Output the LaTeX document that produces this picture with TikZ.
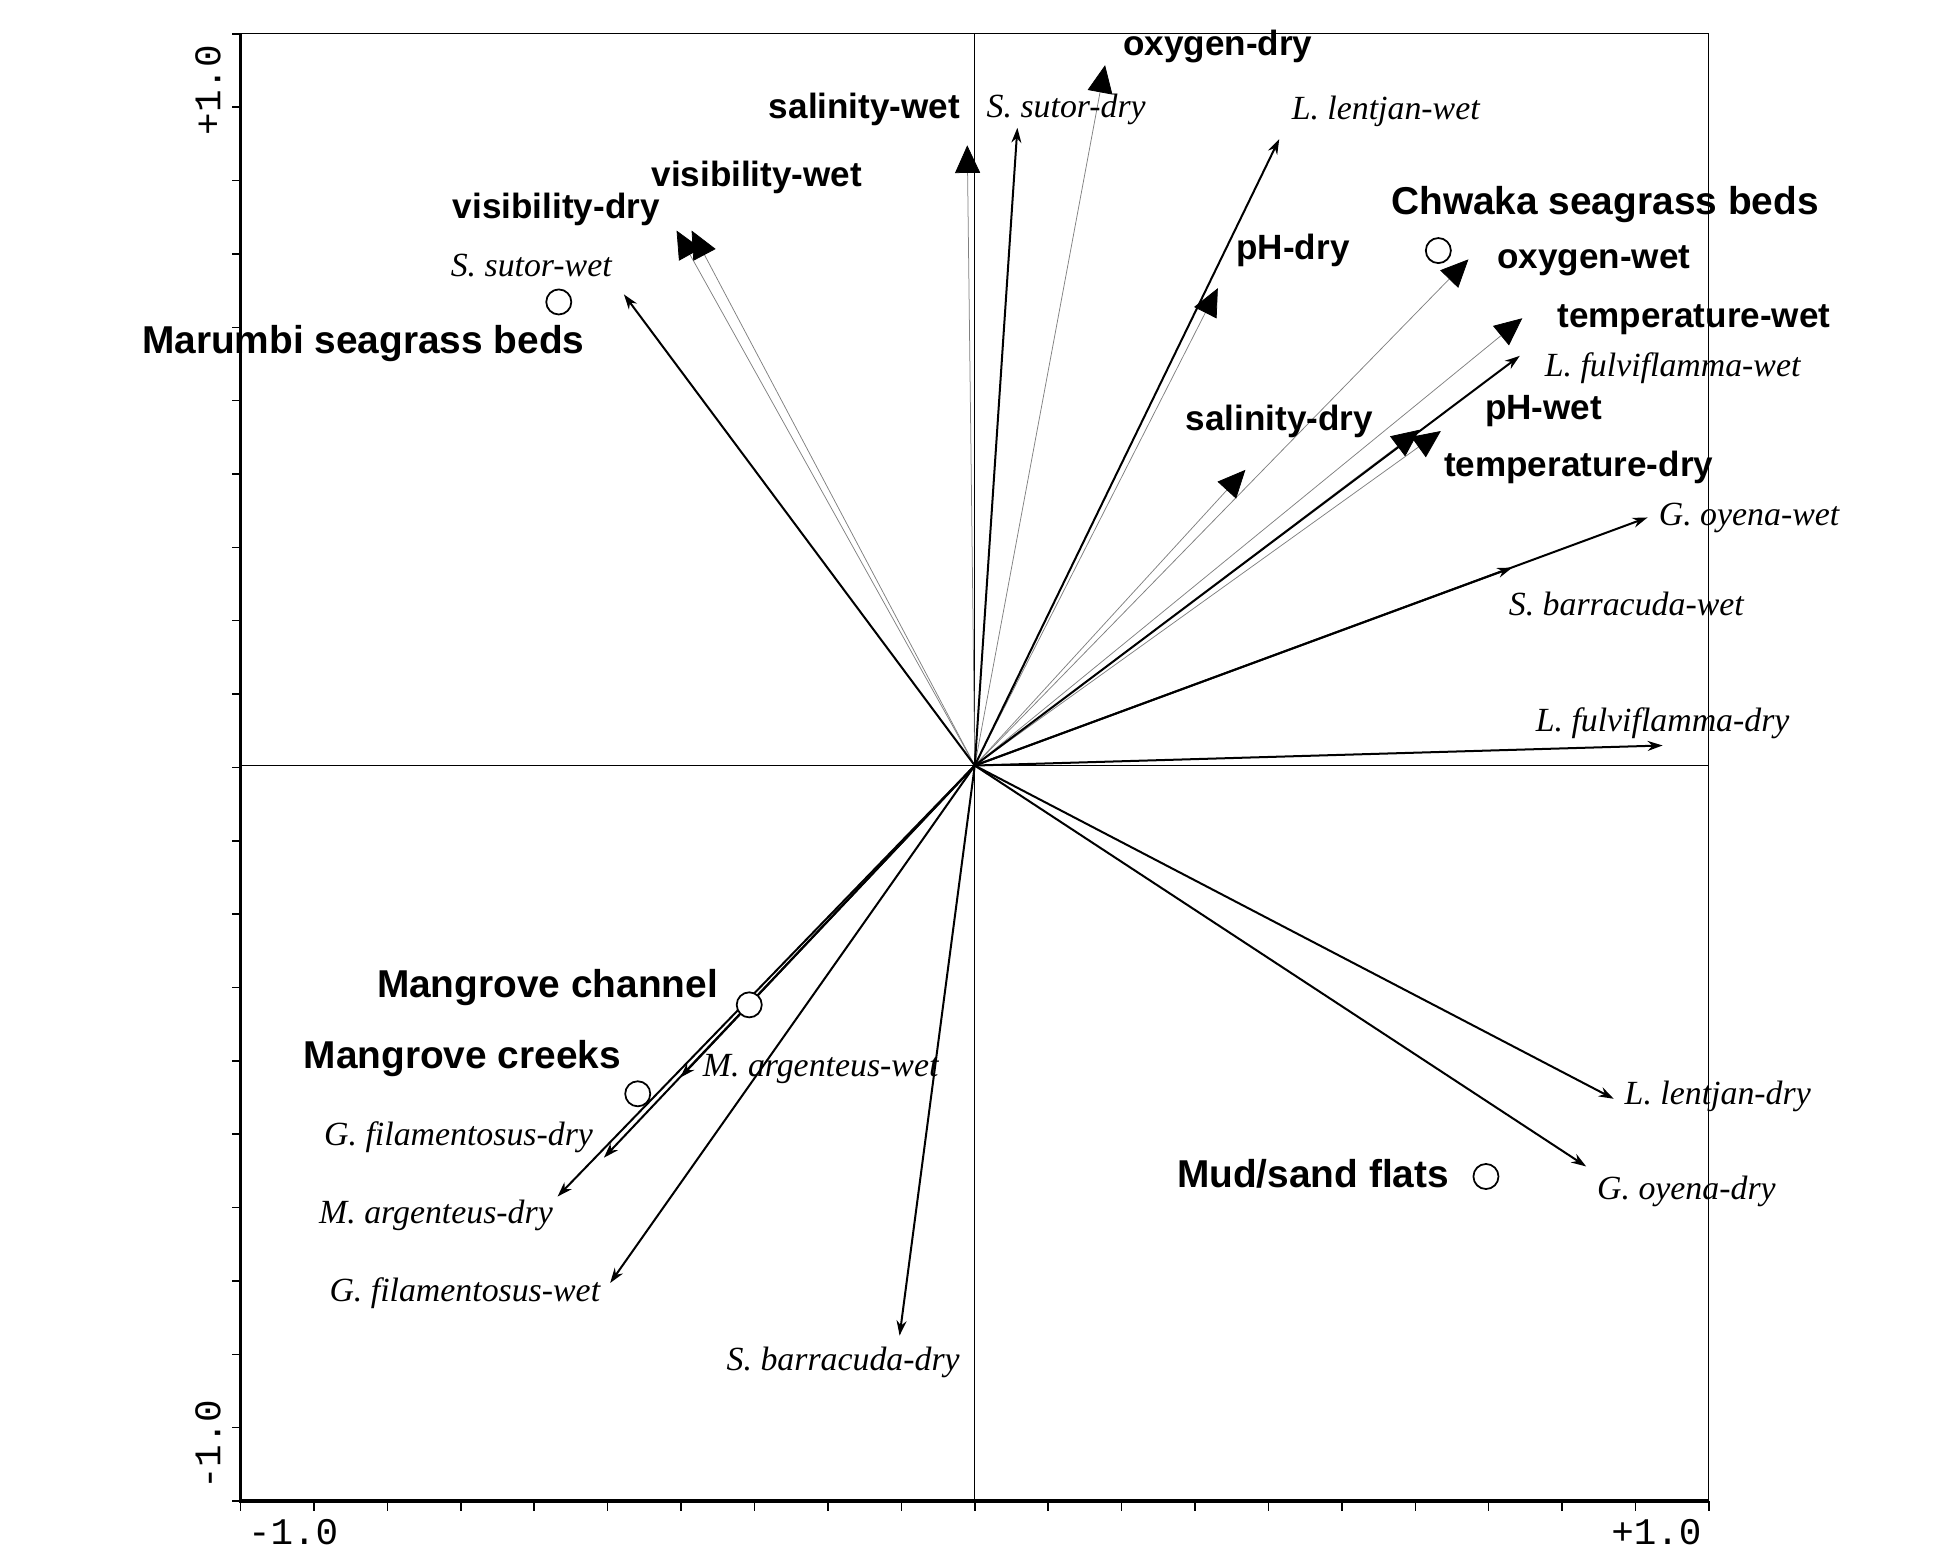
\documentclass[tikz,border=0pt]{standalone}
\usepackage{fontspec}
\setmainfont{Liberation Serif}
\setsansfont{Liberation Sans}
\setmonofont{Liberation Mono}
\usetikzlibrary{arrows.meta}
\begin{document}
\begin{tikzpicture}[x=0.5pt,y=-0.5pt,
  sp/.style={-{Stealth[length=6pt,width=4pt]},line width=0.8pt,black},
  env/.style={-{Triangle[length=11pt,width=10pt,fill=black,color=black]},line width=0.3pt,gray},
  lb/.style={font=\sffamily\bfseries\fontsize{14}{16}\selectfont,inner sep=0pt},
  sl/.style={font=\itshape\fontsize{13.5}{15}\selectfont,inner sep=0pt},
  site/.style={lb,font=\sffamily\bfseries\fontsize{15.5}{17}\selectfont},
  circ/.style={circle,draw,line width=0.7pt,minimum size=10pt,inner sep=0pt,fill=white},
  ax/.style={font=\ttfamily\fontsize{15}{17}\selectfont,inner sep=0pt}]
\useasboundingbox (0,0) rectangle (1550,1242);
% frame
\draw[line width=0.4pt] (192,27) -- (1364,27) -- (1364,1198);
\draw[line width=1.4pt] (192,27) -- (192,1198) -- (1364,1198);
\draw[line width=0.3pt] (778,27) -- (778,1198) (192,611) -- (1364,611);
\foreach \i in {0,...,20} {
  \draw[line width=0.6pt] ({192+\i*58.6},1198) -- ({192+\i*58.6},1206);
  \draw[line width=0.6pt] (192,{27+\i*58.55}) -- (185,{27+\i*58.55});
}
\node[ax] (xm) at (234,1223) {-1.0};
\node[ax] (xp) at (1322,1223) {+1.0};
\node[ax,rotate=90] (yp) at (166,72) {+1.0};
\node[ax,rotate=90] (ym) at (166,1153) {-1.0};
\coordinate (O) at (778,611);
% environmental (gray lines with triangle)
\foreach \x/\y in {540/184,552/184,772/116,882/52,972/230,1172/207,1215/254,1133/343,1150/344,994/375}
  \draw[env] (O) -- (\x,\y);
% species arrows
\foreach \x/\y in {498/235,812/102,1021/111,1213/284,1315/413,1207/453,1327/595,1288/877,1266/931,718/1066,487/1024,445/955,482/924,543/860}
  \draw[sp] (O) -- (\x,\y);
% env labels
\node[lb] (l1) at (444,167) {visibility-dry};
\node[lb] (l2) at (604,142) {visibility-wet};
\node[lb] (l3) at (690,87) {salinity-wet};
\node[lb] (l4) at (972,37) {oxygen-dry};
\node[lb] (l5) at (1032,200) {pH-dry};
\node[lb] (l6) at (1272,208) {oxygen-wet};
\node[lb] (l7) at (1352,255) {temperature-wet};
\node[lb] (l8) at (1232,328) {pH-wet};
\node[lb] (l9) at (1260,373) {temperature-dry};
\node[lb] (l10) at (1021,336) {salinity-dry};
% species labels
\node[sl] (s1) at (424,212) {S. sutor-wet};
\node[sl] (s2) at (851,87) {S. sutor-dry};
\node[sl] (s3) at (1106,89) {L. lentjan-wet};
\node[sl] (s4) at (1335,294) {L. fulviflamma-wet};
\node[sl] (s5) at (1396,413) {G. oyena-wet};
\node[sl] (s6) at (1298,482) {S. barracuda-wet};
\node[sl] (s7) at (1327,577) {L. fulviflamma-dry};
\node[sl] (s8) at (1371,875) {L. lentjan-dry};
\node[sl] (s9) at (1346,951) {G. oyena-dry};
\node[sl] (s10) at (673,1087) {S. barracuda-dry};
\node[sl] (s11) at (371,1032) {G. filamentosus-wet};
\node[sl] (s12) at (348,970) {M. argenteus-dry};
\node[sl] (s13) at (366,908) {G. filamentosus-dry};
\node[sl] (s14) at (655,853) {M. argenteus-wet};
% sites
\node[circ] (c1) at (446,241) {};
\node[site] (t1) at (290,274) {Marumbi seagrass beds};
\node[circ] (c2) at (1148,200) {};
\node[site] (t2) at (1281,163) {Chwaka seagrass beds};
\node[circ] (c3) at (598,802) {};
\node[site] (t3) at (437,788) {Mangrove channel};
\node[circ] (c4) at (509,873) {};
\node[site] (t4) at (369,845) {Mangrove creeks};
\node[circ] (c5) at (1186,939) {};
\node[site] (t5) at (1048,937) {Mud/sand flats};
\end{tikzpicture}
\end{document}
